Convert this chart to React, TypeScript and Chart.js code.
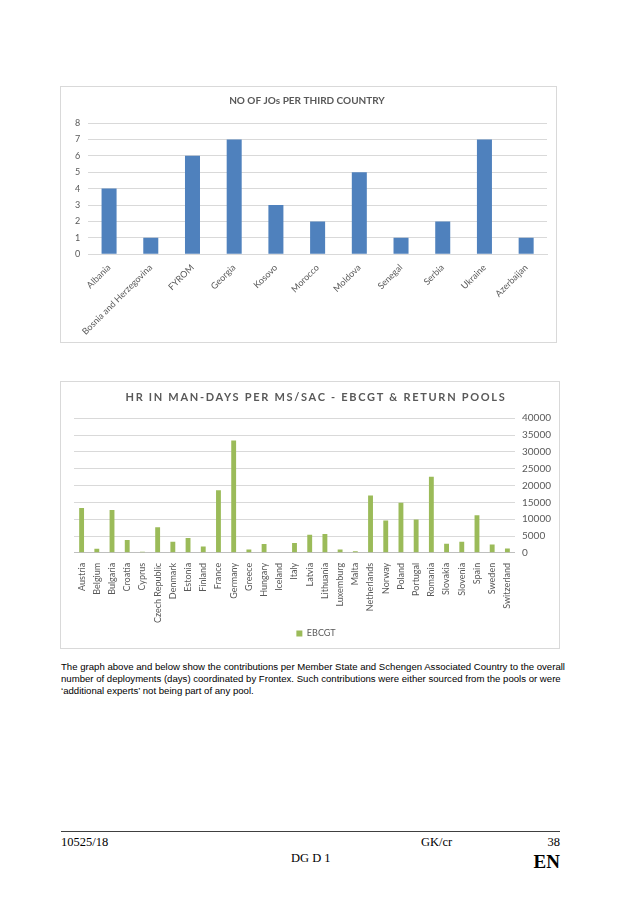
import { useEffect, useRef } from 'react'
import { Chart, registerables } from 'chart.js'
import type { ChartConfiguration } from 'chart.js'

Chart.register(...registerables)

const thirdCountries = [
  'Albania',
  'Bosnia and Herzegovina',
  'FYROM',
  'Georgia',
  'Kosovo',
  'Morocco',
  'Moldova',
  'Senegal',
  'Serbia',
  'Ukraine',
  'Azerbaijan',
]
const josPerCountry = [4, 1, 6, 7, 3, 2, 5, 1, 2, 7, 1]

const memberStates = [
  'Austria', 'Belgium', 'Bulgaria', 'Croatia', 'Cyprus', 'Czech Republic', 'Denmark',
  'Estonia', 'Finland', 'France', 'Germany', 'Greece', 'Hungary', 'Iceland', 'Italy',
  'Latvia', 'Lithuania', 'Luxemburg', 'Malta', 'Netherlands', 'Norway', 'Poland',
  'Portugal', 'Romania', 'Slovakia', 'Slovenia', 'Spain', 'Sweden', 'Switzerland',
]
const ebcgtManDays = [
  13300, 1200, 12700, 3800, 300, 7600, 3300,
  4400, 1900, 18600, 33400, 1000, 2600, 0, 2900,
  5400, 5600, 1000, 500, 17000, 9600, 14900,
  9900, 22600, 2700, 3300, 11200, 2500, 1300,
]

const FONT = 'Lato'
const TEXT = '#595959'
const GRID = '#d9d9d9'

// draws the chart title with letter spacing, like the Excel original
const spacedTitle = {
  id: 'spacedTitle',
  beforeDraw(chart: any) {
    const block = chart.titleBlock
    if (!block || block.__spaced) return
    const draw = block.draw.bind(block)
    block.draw = (area: any) => {
      chart.ctx.save()
      chart.ctx.letterSpacing = '1.7px'
      draw(area)
      chart.ctx.restore()
    }
    block.__spaced = true
  },
}

function BarCanvas({ config, width, height }: { config: () => ChartConfiguration; width: number; height: number }) {
  const canvasRef = useRef<HTMLCanvasElement>(null)
  useEffect(() => {
    if (!canvasRef.current) return
    const chart = new Chart(canvasRef.current, config())
    return () => chart.destroy()
  }, [])
  return <canvas ref={canvasRef} width={width} height={height} style={{ display: 'block' }} />
}

function thirdCountryConfig(): ChartConfiguration {
  return {
    type: 'bar',
    data: {
      labels: thirdCountries,
      datasets: [
        {
          data: josPerCountry,
          backgroundColor: '#4f81bd',
          categoryPercentage: 1,
          barPercentage: 0.36,
        },
      ],
    },
    options: {
      animation: false,
      responsive: false,
      layout: { padding: { left: 6, right: 9, top: 0, bottom: 5 } },
      plugins: {
        legend: { display: false },
        tooltip: { enabled: false },
        title: {
          display: true,
          text: 'NO OF JOs PER THIRD COUNTRY',
          color: TEXT,
          font: { family: FONT, size: 10, weight: 'bold' },
          padding: { top: 8, bottom: 16 },
        },
      },
      scales: {
        x: {
          grid: { display: false },
          border: { color: GRID },
          // let the rotated labels hang into the y-axis gutter as Excel does
          afterFit: (s: any) => {
            s.paddingLeft = 0
          },
          ticks: {
            color: TEXT,
            font: { family: FONT, size: 9 },
            minRotation: 45,
            maxRotation: 45,
            autoSkip: false,
            padding: 0,
          },
        },
        y: {
          min: 0,
          max: 8,
          border: { display: false },
          grid: { color: GRID, drawTicks: false },
          ticks: { stepSize: 1, color: TEXT, font: { family: FONT, size: 9 }, padding: 8 },
        },
      },
    },
  }
}

function manDaysConfig(): ChartConfiguration {
  return {
    type: 'bar',
    data: {
      labels: memberStates,
      datasets: [
        {
          label: 'EBCGT',
          data: ebcgtManDays,
          backgroundColor: '#9bbb59',
          categoryPercentage: 1,
          barPercentage: 0.32,
        },
      ],
    },
    options: {
      animation: false,
      responsive: false,
      layout: { padding: { left: 13, right: 1, top: 0, bottom: 0 } },
      plugins: {
        tooltip: { enabled: false },
        title: {
          display: true,
          text: 'HR IN MAN-DAYS PER MS/SAC - EBCGT & RETURN POOLS',
          color: TEXT,
          font: { family: FONT, size: 11, weight: 'bold' },
          padding: { top: 9, bottom: 14 },
        },
        legend: {
          position: 'bottom',
          labels: {
            color: TEXT,
            font: { family: FONT, size: 9 },
            boxWidth: 6,
            boxHeight: 6,
            padding: 4,
          },
        },
      },
      scales: {
        x: {
          grid: { display: false },
          border: { color: '#bfbfbf' },
          ticks: {
            color: TEXT,
            font: { family: FONT, size: 9 },
            minRotation: 90,
            maxRotation: 90,
            autoSkip: false,
            padding: 2,
          },
        },
        y: {
          position: 'right',
          min: 0,
          max: 40000,
          border: { display: false },
          grid: { color: GRID, drawTicks: false },
          ticks: {
            stepSize: 5000,
            color: TEXT,
            font: { family: FONT, size: 10 },
            padding: 7,
            callback: (v: any) => String(v),
          },
        },
      },
    },
    plugins: [spacedTitle],
  }
}

const abs = (left: number, top: number): React.CSSProperties => ({ position: 'absolute', left, top })

export default function App() {
  const serif: React.CSSProperties = { fontFamily: '"Liberation Serif", serif', fontSize: 12.5, lineHeight: '13px', color: '#000' }
  const para: React.CSSProperties = {
    whiteSpace: 'nowrap',
    textAlign: 'justify',
    textAlignLast: 'justify',
  }
  return (
    <div style={{ position: 'absolute', left: 0, top: 0, width: 638, height: 903, background: '#fff', overflow: 'hidden' }}>
      <div style={{ ...abs(60, 86), width: 495, height: 255, border: `1px solid ${GRID}` }}>
        <BarCanvas config={thirdCountryConfig} width={495} height={255} />
      </div>

      <div style={{ ...abs(60, 381), width: 498, height: 266, border: `1px solid ${GRID}` }}>
        <BarCanvas config={manDaysConfig} width={498} height={266} />
      </div>

      <div
        style={{
          ...abs(61, 661),
          width: 499,
          fontFamily: '"Liberation Sans", sans-serif',
          fontSize: 9.6,
          lineHeight: '12px',
          color: '#000',
        }}
      >
        <div style={para}>
          The graph above and below show the contributions per Member State and Schengen Associated Country to the overall
        </div>
        <div style={para}>
          number of deployments (days) coordinated by Frontex. Such contributions were either sourced from the pools or were
        </div>
        <div>‘additional experts’ not being part of any pool.</div>
      </div>

      <div style={{ ...abs(61, 831), width: 499, height: 1, background: '#404040' }} />
      <div style={{ ...serif, ...abs(61, 836) }}>10525/18</div>
      <div style={{ ...serif, ...abs(421, 836) }}>GK/cr</div>
      <div style={{ ...serif, position: 'absolute', right: 638 - 560, top: 836 }}>38</div>
      <div style={{ ...serif, ...abs(291, 852) }}>DG D 1</div>
      <div
        style={{
          ...serif,
          fontSize: 19,
          lineHeight: '19px',
          fontWeight: 'bold',
          position: 'absolute',
          right: 638 - 560,
          top: 852,
        }}
      >
        EN
      </div>
    </div>
  )
}
